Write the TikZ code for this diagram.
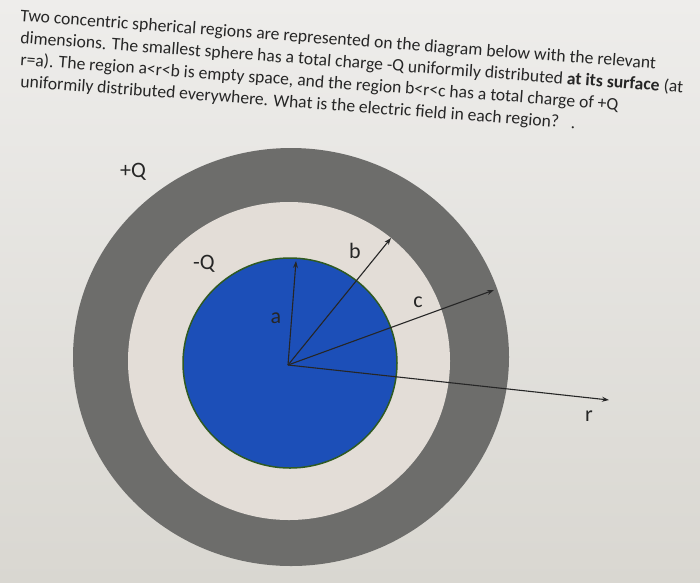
\documentclass[tikz,border=0pt]{standalone}
\usepackage{fontspec}
\setmainfont{Carlito}
\usetikzlibrary{arrows.meta}
\definecolor{bgtop}{HTML}{EEEDEB}
\definecolor{bgbot}{HTML}{D9D7D1}
\definecolor{ringgray}{HTML}{6D6D6B}
\definecolor{gapcol}{HTML}{E3DDD7}
\definecolor{ballblue}{HTML}{1C4FB8}
\definecolor{ballrim}{HTML}{2F5A22}
\definecolor{inkcol}{HTML}{262626}
\tikzset{
  qline/.style={anchor=base west, rotate=-4.3, inner sep=0pt, text=inkcol,
    font=\fontsize{17.6}{20}\selectfont},
  lab/.style={text=inkcol, font=\fontsize{22}{24}\selectfont, inner sep=0pt},
  radius arrow/.style={draw=black!85, line width=1.1pt, -{Stealth[length=7pt,width=5pt]}}
}
\begin{document}
\begin{tikzpicture}[x=1pt,y=-1pt]
\useasboundingbox (0,0) rectangle (700,582);
\shade[top color=bgtop, bottom color=bgbot] (0,0) rectangle (700,582);
% spheres
\fill[ringgray] (291,357) ellipse [x radius=218, y radius=209];
\fill[gapcol] (289,361) ellipse [x radius=161, y radius=159];
\filldraw[fill=ballblue, draw=ballrim, line width=1.5pt] (290,363) ellipse [x radius=107, y radius=105];
% text
\node[qline] (l1) at (20,21) {Two concentric spherical regions are represented on the diagram below with the relevant};
\node[qline] (l2) at (20,43) {dimensions. The smallest sphere has a total charge -Q uniformily distributed \textbf{at its surface} (at};
\node[qline] (l3) at (20,65) {r=a). The region a<r<b is empty space, and the region b<r<c has a total charge of +Q};
\node[qline] (l4) at (20,87) {uniformily distributed everywhere. What is the electric field in each region?\ \ \ .};
% radii
\coordinate (O) at (288,365);
\coordinate (ta) at (296,261);
\coordinate (tb) at (391,238);
\coordinate (tc) at (494,290);
\coordinate (tr) at (609,400);
\draw[radius arrow] (O) -- (ta);
\draw[radius arrow] (O) -- (tb);
\draw[radius arrow] (O) -- (tc);
\draw[radius arrow] (O) -- (tr);
% labels
\node[lab] (pQ) at (133,172) {+Q};
\node[lab] (mQ) at (204,264) {-Q};
\node[lab] (la) at (276,318) {a};
\node[lab] (lb) at (355,251) {b};
\node[lab] (lc) at (418,302) {c};
\node[lab] (lr) at (589,416) {r};
\end{tikzpicture}
\end{document}
